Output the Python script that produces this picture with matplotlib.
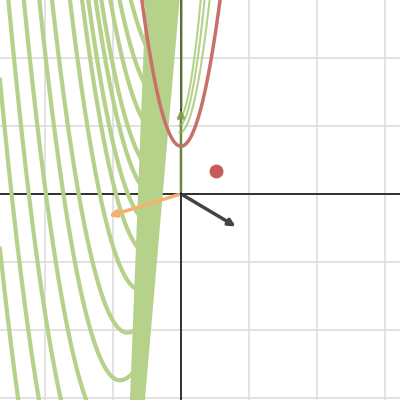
import numpy as np
import matplotlib
matplotlib.use("Agg")
import matplotlib.pyplot as plt

# vertices of the green curve family
vert_h = [-0.20, -0.25, -0.30, -0.34, -0.38, -0.41, -0.46, -0.49, -0.60, -0.79, -0.90, -1.05, -1.20, -1.35, -1.50, -1.65, -1.80, -1.95]
vert_k = [2.40, 1.90, 1.40, 0.90, 0.35, 0.00, -0.41, -0.87, -1.41, -2.04, -2.74, -3.50, -4.30, -5.20, -6.20, -7.30, -8.50, -9.80]
upper_h = [-0.02, -0.03, -0.04]
upper_k = [0.9, 1.0, 1.1]
upper_a = [10.0, 13.0, 16.0]
red_a, red_k = 6.5, 0.7
red_pt = (0.51, 0.34)
vec_orange = (-1.1, -0.34)
vec_dark = (0.84, -0.5)
vec_green = (0.0, 1.28)

fig = plt.figure(figsize=(4, 4), dpi=100)
ax = fig.add_axes([0, 0, 1, 1])
ax.set_xlim(-2.66, 3.22)
ax.set_ylim(-3.03, 2.85)
for g in range(-2, 4):
    ax.axvline(g, color='#dddddd', lw=1.2, zorder=0)
for g in range(-3, 3):
    ax.axhline(g, color='#dddddd', lw=1.2, zorder=0)
ax.axhline(0, color='#222222', lw=1.3, zorder=1)
ax.axvline(0, color='#222222', lw=1.3, zorder=1)

green = '#b5d18a'
line = lambda x: -3.03 + 15.9 * (x + 0.64)
xs = np.linspace(-4, 1, 3000)
for h, k in zip(vert_h, vert_k):
    yl = k + 4.0 * (xs - h) ** 2
    yr = np.maximum(k + 3.0 * (xs - h) ** 2, line(xs))
    y = np.where(xs < h, yl, yr)
    ax.plot(xs, y, color=green, lw=3, zorder=2)
for h, k, a in zip(upper_h, upper_k, upper_a):
    xx = xs[xs >= h]
    ax.plot(xx, k + a * (xx - h) ** 2, color=green, lw=1.5, zorder=2)
# dense band
yb = np.linspace(-3.2, 3.0, 50)
xc = -0.64 + (yb + 3.03) / 15.9
w = 0.11 + 0.14 * (yb + 3.03) / 5.9
ax.fill_betweenx(yb, xc - w, xc + w, color=green, zorder=2, lw=0)

xr = np.linspace(-1, 1, 400)
ax.plot(xr, red_a * xr ** 2 + red_k, color='#c8706a', lw=2.5, zorder=3)
ax.plot(*red_pt, 'o', color='#c75b5b', ms=9, zorder=4)
ax.annotate('', xy=vec_orange, xytext=(0, 0),
            arrowprops=dict(arrowstyle='-|>', color='#f5b06e', lw=2.5, mutation_scale=10), zorder=4)
ax.annotate('', xy=vec_dark, xytext=(0, 0),
            arrowprops=dict(arrowstyle='-|>', color='#444444', lw=2.5, mutation_scale=10), zorder=4)
ax.annotate('', xy=vec_green, xytext=(0, 0),
            arrowprops=dict(arrowstyle='-|>', color='#7a9a4a', lw=2.0, mutation_scale=10, alpha=0.8), zorder=4)
ax.plot([0, 0], [1.28, 2.85], color='#7a9a4a', lw=2, alpha=0.6, zorder=3)
ax.axis('off')
fig.savefig('out.png', dpi=100)
